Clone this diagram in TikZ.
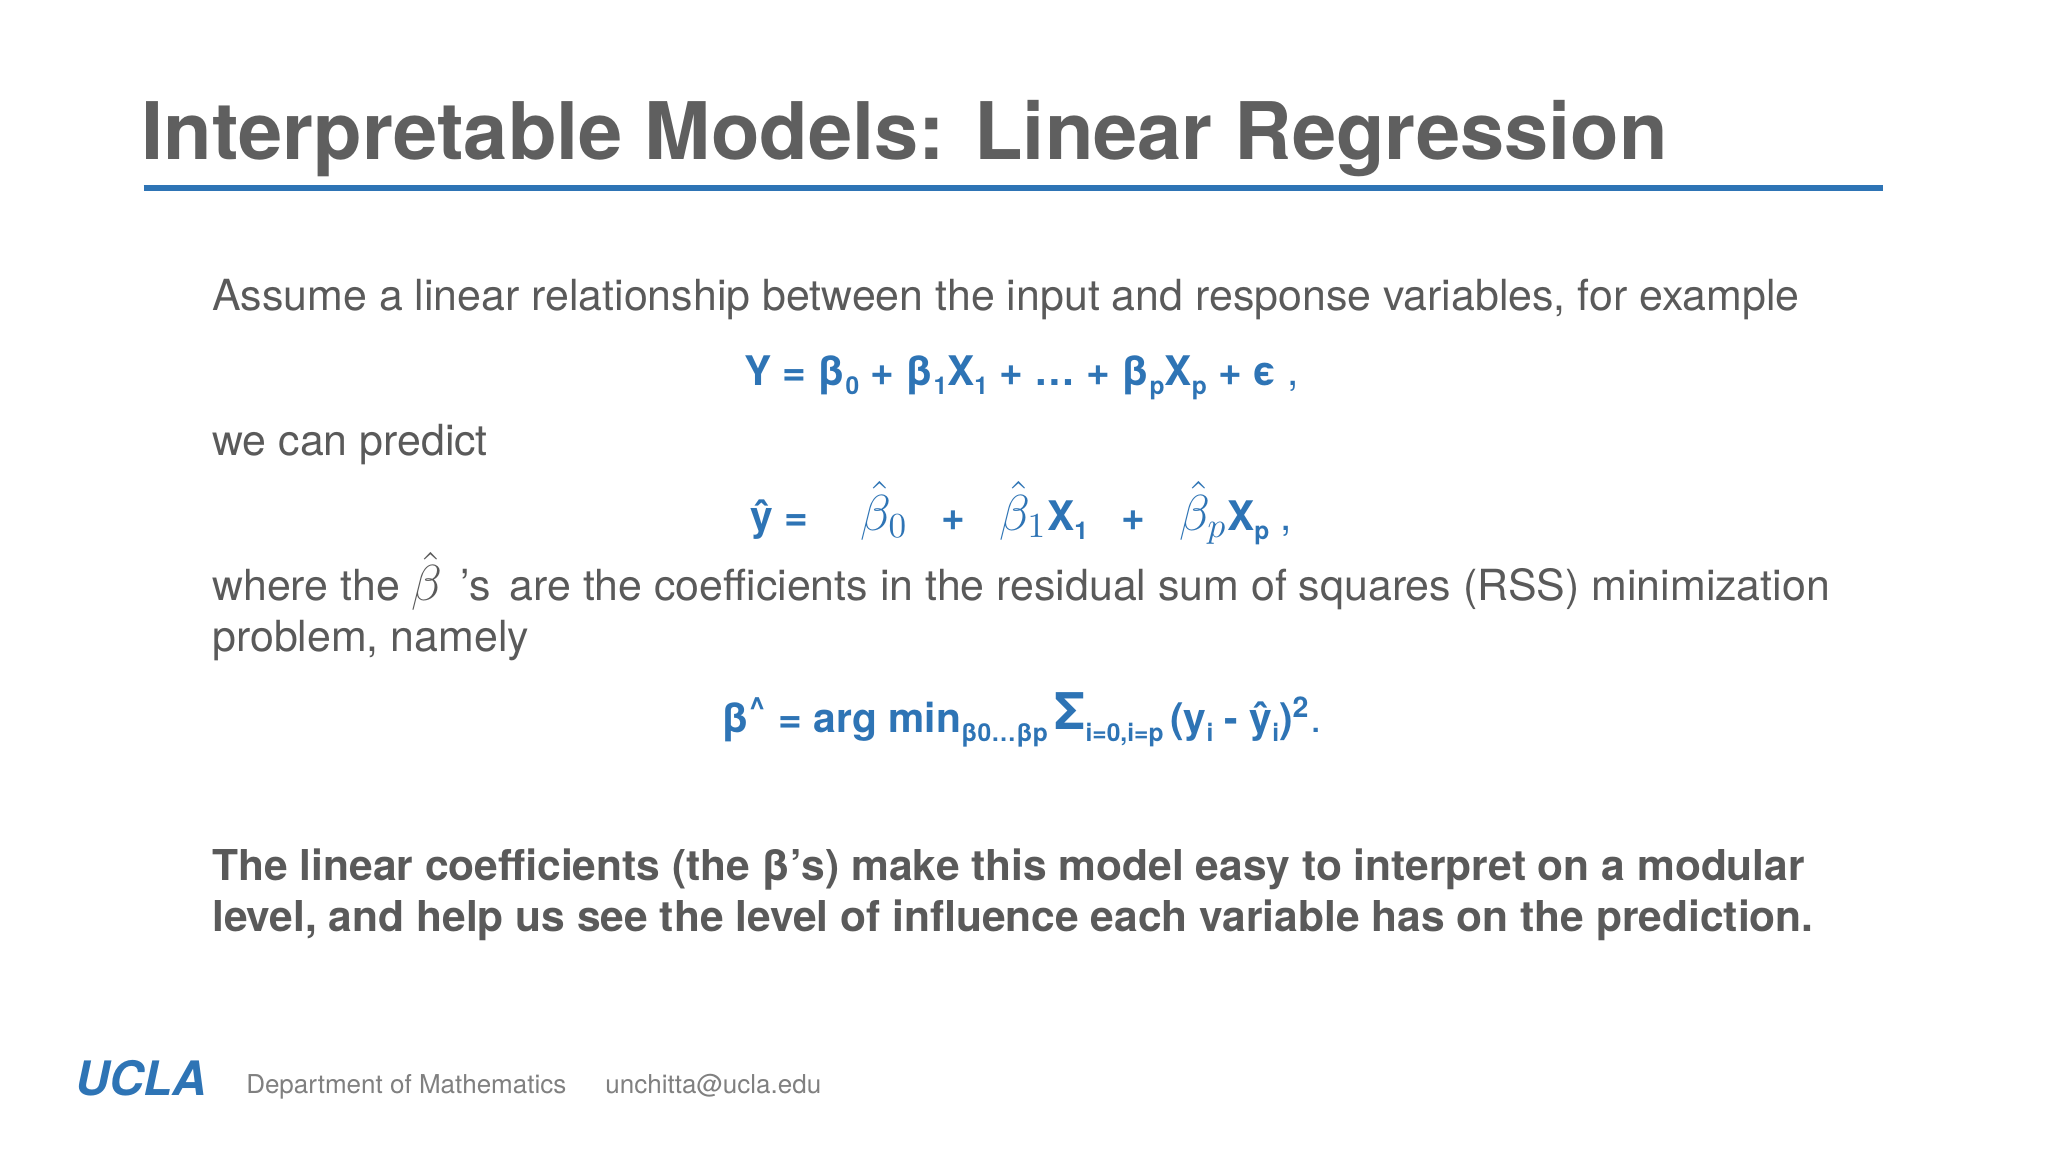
\documentclass[tikz,border=0pt]{standalone}
\usepackage{fontspec}
\setmainfont{TeX Gyre Heros}
\definecolor{tgray}{HTML}{5F5F5F}
\definecolor{bgray}{HTML}{5A5A5A}
\definecolor{ublue}{HTML}{2E74B5}
\newcommand{\dsub}[1]{\raisebox{-2.5pt}{\scriptsize #1}}
\newcommand{\bh}[1]{{\fontsize{14pt}{16pt}\selectfont$\hat\beta_{#1}$}}
\begin{document}
\begin{tikzpicture}[x=0.013061cm,y=-0.013061cm,
  body/.style={anchor=base west,inner sep=0,text=bgray,font=\fontsize{12.2pt}{14pt}\selectfont},
  eq/.style={anchor=base,inner sep=0,text=ublue,font=\fontsize{11.6pt}{14pt}\selectfont\bfseries},
  foot/.style={anchor=base west,inner sep=0,text=gray,font=\fontsize{7.4pt}{9pt}\selectfont}]
\useasboundingbox[fill=white] (0,0) rectangle (1568,882);
\node[anchor=base west,inner sep=0,text=tgray,font=\fontsize{22.6pt}{27pt}\selectfont\bfseries] (title) at (108,122) {Interpretable Models: Linear Regression};
\draw[ublue,line width=1.9pt] (110,144) coordinate (l1) -- (1442,144) coordinate (l2);
\node[body] (t1) at (162,238) {Assume a linear relationship between the input and response variables, for example};
\node[eq] (e1) at (782,295) {Y = β\dsub{0} + β\dsub{1}X\dsub{1} + … + β\dsub{p}X\dsub{p} + ϵ \mdseries,};
\node[body] (t2) at (162,349) {we can predict};
\node[eq] (e2) at (782,406) {ŷ = \quad\bh{0} \; + \; \bh{1}X\dsub{1} \; + \; \bh{p}X\dsub{p} \mdseries,};
\node[body] (t3) at (162,460) {where the \bh{}\, ’s\, are the coefficients in the residual sum of squares (RSS) minimization};
\node[body] (t4) at (162,499) {problem, namely};
\node[eq] (e3) at (782,561) {β\textsuperscript{\textasciicircum} = arg min\dsub{β0…βp}\,\raisebox{1pt}{\Large Σ}\dsub{i=0,i=p}\,(y\dsub{i} - ŷ\dsub{i})\textsuperscript{2}\mdseries.};
\node[body,font=\fontsize{12.1pt}{14pt}\selectfont\bfseries] (t5) at (162,674) {The linear coefficients (the β’s) make this model easy to interpret on a modular};
\node[body,font=\fontsize{12.1pt}{14pt}\selectfont\bfseries] (t6) at (162,713) {level, and help us see the level of influence each variable has on the prediction.};
\node[anchor=base west,inner sep=0,text=ublue,font=\fontsize{13.5pt}{16pt}\selectfont\bfseries\itshape] (ucla) at (57,839) {UCLA};
\node[foot] (d) at (188,837) {Department of Mathematics};
\node[foot] (m) at (463,837) {unchitta@ucla.edu};
\end{tikzpicture}
\end{document}
